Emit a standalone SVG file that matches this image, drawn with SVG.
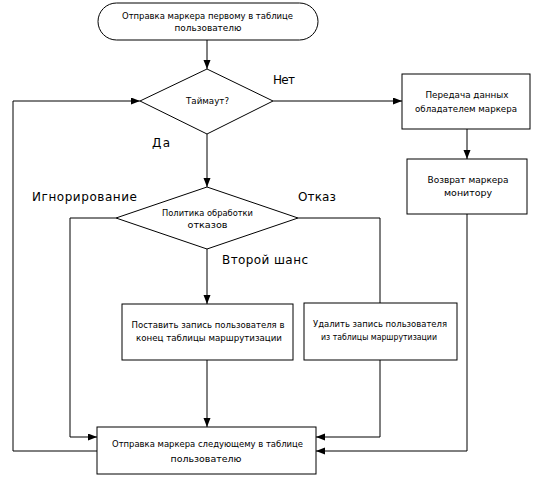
<svg xmlns="http://www.w3.org/2000/svg" width="534" height="478" viewBox="0 0 534 478">
<style>
.shape{fill:#fff;stroke:#000;stroke-width:1}
.conn{fill:none;stroke:#000;stroke-width:1}
.t{font-family:"DejaVu Sans","Liberation Sans",sans-serif;font-size:8.5px;fill:#000;text-anchor:middle;dominant-baseline:central}
.lbl{font-family:"DejaVu Sans","Liberation Sans",sans-serif;font-size:12px;fill:#000;dominant-baseline:central}
</style>
<defs>
<marker id="arr" markerUnits="userSpaceOnUse" markerWidth="10" markerHeight="8" refX="9" refY="3.5" orient="auto">
<path d="M0,0 L9,3.5 L0,7 z" fill="#000"/>
</marker>
</defs>
<rect width="534" height="478" fill="#fff"/>
<g id="connectors">
<path class="conn" d="M207,40 L207,69" marker-end="url(#arr)"/>
<path class="conn" d="M273,101 L402,101" marker-end="url(#arr)"/>
<path class="conn" d="M467,129 L467,159" marker-end="url(#arr)"/>
<path class="conn" d="M467,214 L467,451 L316,451" marker-end="url(#arr)"/>
<path class="conn" d="M207,134 L207,187" marker-end="url(#arr)"/>
<path class="conn" d="M116,218 L70,218 L70,437 L97,437" marker-end="url(#arr)"/>
<path class="conn" d="M298,218 L380,218 L380,303"/>
<path class="conn" d="M380,360 L380,437 L316,437" marker-end="url(#arr)"/>
<path class="conn" d="M207,249 L207,304" marker-end="url(#arr)"/>
<path class="conn" d="M207,360 L207,427" marker-end="url(#arr)"/>
<path class="conn" d="M97,451 L13,451 L13,101 L140,101" marker-end="url(#arr)"/>
</g>
<g id="labels">
<text class="lbl" x="273" y="80" textLength="22" lengthAdjust="spacing">Нет</text>
<text class="lbl" x="152" y="143" textLength="18" lengthAdjust="spacing">Да</text>
<text class="lbl" x="32" y="197" textLength="105" lengthAdjust="spacing">Игнорирование</text>
<text class="lbl" x="298" y="197" textLength="38" lengthAdjust="spacing">Отказ</text>
<text class="lbl" x="222" y="260" textLength="86" lengthAdjust="spacing">Второй шанс</text>
</g>
<g id="start">
<rect class="shape" x="98" y="3" width="220" height="37" rx="18.5" ry="18.5"/>
<text class="t" x="207.5" y="16" textLength="171" lengthAdjust="spacingAndGlyphs">Отправка маркера первому в таблице</text>
<text class="t" x="208" y="28" textLength="67" lengthAdjust="spacingAndGlyphs">пользователю</text>
</g>
<g id="timeout">
<polygon class="shape" points="207,69 273,101 207,134 140,101"/>
<text class="t" x="207.5" y="101" textLength="43" lengthAdjust="spacingAndGlyphs">Таймаут?</text>
</g>
<g id="transfer">
<rect class="shape" x="402" y="74" width="128" height="55"/>
<text class="t" x="467" y="94.5" textLength="83" lengthAdjust="spacingAndGlyphs">Передача данных</text>
<text class="t" x="466" y="108.5" textLength="102" lengthAdjust="spacingAndGlyphs">обладателем маркера</text>
</g>
<g id="return">
<rect class="shape" x="407" y="159" width="120" height="55"/>
<text class="t" x="468" y="180" textLength="81" lengthAdjust="spacingAndGlyphs">Возврат маркера</text>
<text class="t" x="468" y="193" textLength="48" lengthAdjust="spacingAndGlyphs">монитору</text>
</g>
<g id="policy">
<polygon class="shape" points="207,187 298,218 207,249 116,218"/>
<text class="t" x="207.5" y="213" textLength="91" lengthAdjust="spacingAndGlyphs">Политика обработки</text>
<text class="t" x="207.5" y="224.5" textLength="40" lengthAdjust="spacingAndGlyphs">отказов</text>
</g>
<g id="requeue">
<rect class="shape" x="122" y="304" width="171" height="56"/>
<text class="t" x="208" y="324.5" textLength="153" lengthAdjust="spacingAndGlyphs">Поставить запись пользователя в</text>
<text class="t" x="209" y="338" textLength="146" lengthAdjust="spacingAndGlyphs">конец таблицы маршрутизации</text>
</g>
<g id="remove">
<rect class="shape" x="304" y="303" width="153" height="57"/>
<text class="t" x="380" y="323.5" textLength="134" lengthAdjust="spacingAndGlyphs">Удалить запись пользователя</text>
<text class="t" x="379" y="337" textLength="116" lengthAdjust="spacingAndGlyphs">из таблицы маршрутизации</text>
</g>
<g id="next">
<rect class="shape" x="97" y="427" width="219" height="47"/>
<text class="t" x="207.5" y="444" textLength="191" lengthAdjust="spacingAndGlyphs">Отправка маркера следующему в таблице</text>
<text class="t" x="206" y="459" textLength="71" lengthAdjust="spacingAndGlyphs">пользователю</text>
</g>
</svg>
